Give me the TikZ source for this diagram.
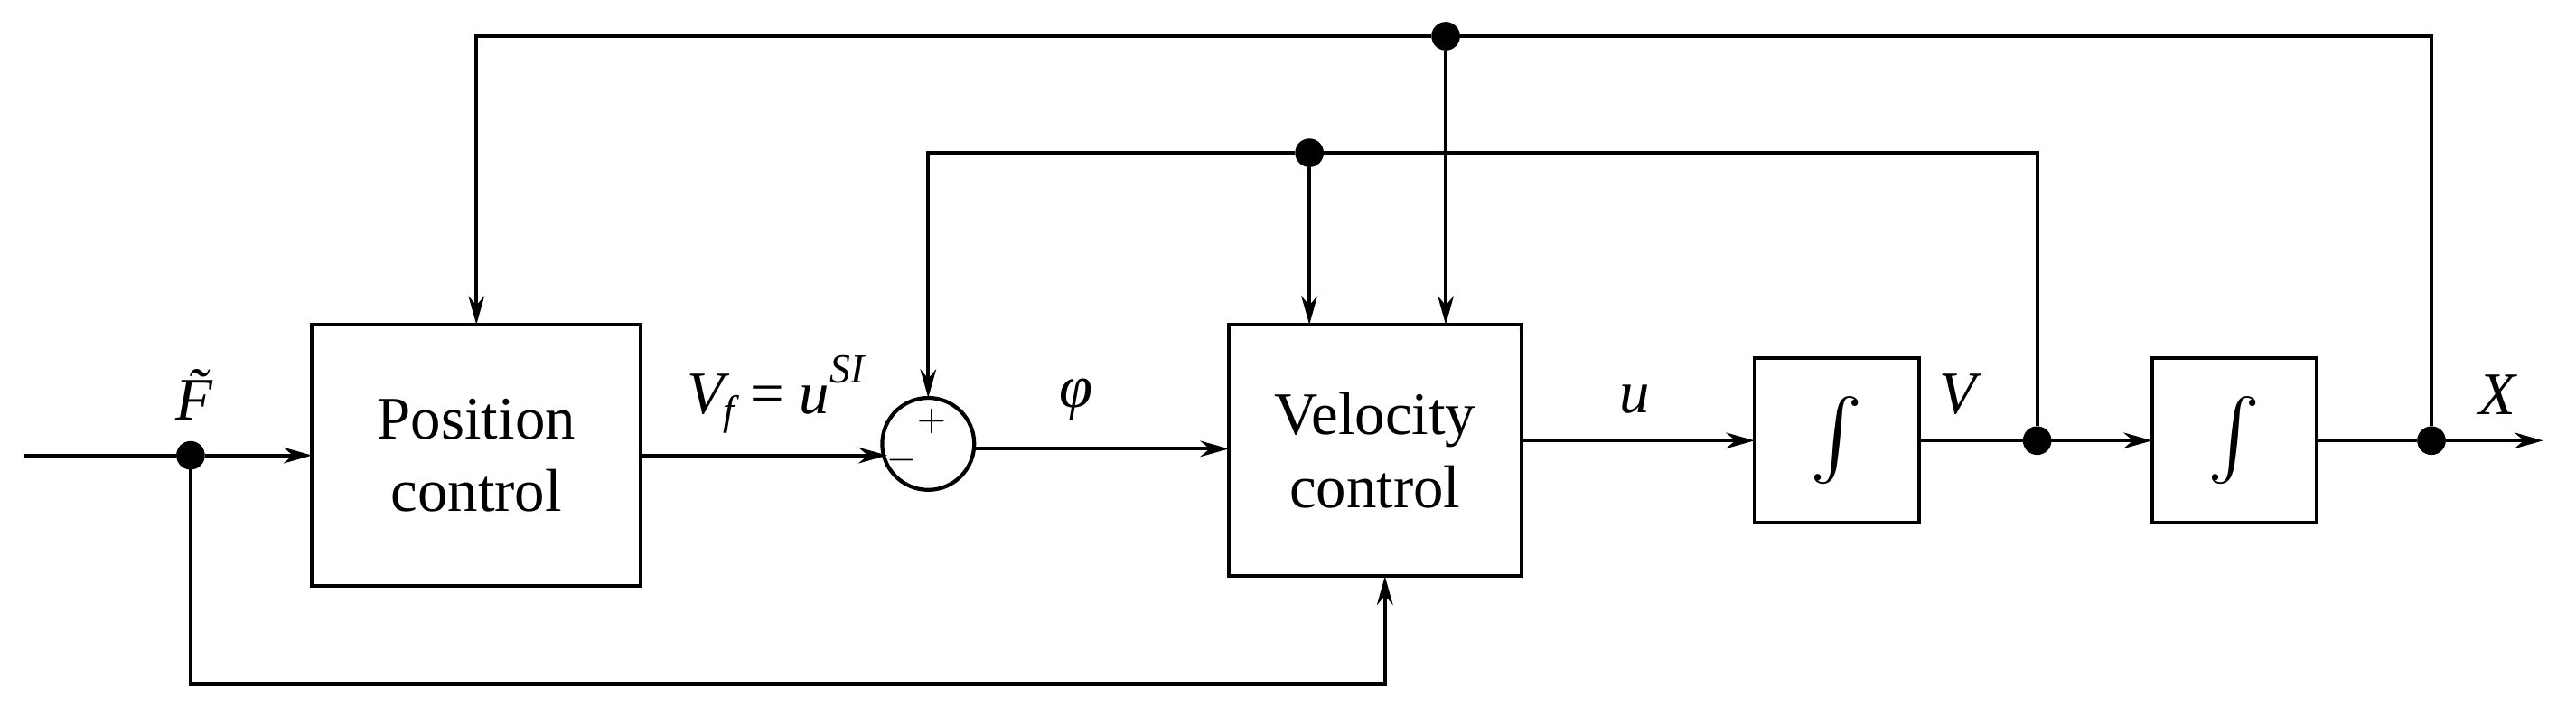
\documentclass[tikz,border=0pt]{standalone}
\usepackage{fontspec}
\setmainfont{Liberation Serif}
\usepackage{amsmath}
\usetikzlibrary{arrows.meta}
\begin{document}
\begin{tikzpicture}
	[x=0.01818cm,y=-0.01818cm,
	every node/.style={inner sep=1pt,outer sep=0},
	blk/.style={shape=rectangle,draw,line width=1.2pt,align=center,font=\fontsize{19}{23}\selectfont},
	dot/.style={shape=circle,fill,minimum size=9pt,inner sep=0},
	sig/.style={font=\fontsize{19}{23}\selectfont\itshape},
	>={Stealth[length=9pt,width=5pt]}]
	\useasboundingbox (0,0) rectangle (1568,436);
	\coordinate (in) at (15,277);
	\node[dot] (df) at (116,277) {};
	\node[blk,minimum width=200*0.01818cm,minimum height=159*0.01818cm] (pos) at (290,277) {Position\\control};
	\node[shape=circle,draw,line width=1.2pt,minimum size=56*0.01818cm] (sum) at (565,270) {};
	\node[blk,minimum width=178*0.01818cm,minimum height=153*0.01818cm] (vel) at (837,274) {Velocity\\control};
	\node[blk,minimum size=100*0.01818cm,font=\fontsize{24}{28}\selectfont] (int1) at (1118,268) {$\int$};
	\node[blk,minimum size=100*0.01818cm,font=\fontsize{24}{28}\selectfont] (int2) at (1360,268) {$\int$};
	\node[dot] (dv) at (1240,268) {};
	\node[dot] (dx) at (1480,268) {};
	\coordinate (out) at (1548,268);
	\node[dot] (dt1) at (880,22) {};
	\node[dot] (dt2) at (797,93) {};
	% labels
	\node[sig] at (118,240) {\~{F}};
	\node[sig] at (472,240) {V\raisebox{-0.4ex}{\fontsize{13}{15}\selectfont f}\ {\upshape =}\ u\raisebox{1.1ex}{\fontsize{13}{15}\selectfont SI}};
	\node[sig] at (655,243) {φ};
	\node[sig] at (995,243) {u};
	\node[sig] at (1192,240) {V};
	\node[sig] at (1520,240) {X};
	\node[font=\fontsize{13}{15}\selectfont] at (567,256) {$+$};
	\node[font=\fontsize{13}{15}\selectfont] at (549,280) {$-$};
	\draw[line width=1.2pt,->]
	(in) -- (df) -- (pos.west |- df) ;
	\draw[line width=1.2pt,->] (pos.east |- sum.west) ++(0,7) -- ++(150,0) ;
	\draw[line width=1.2pt,->] (sum.east) ++(0,3) -- (vel.west |- 0,273) ;
	\draw[line width=1.2pt,->] (vel.east |- int1) -- (int1.west) ;
	\draw[line width=1.2pt,->] (int1.east) -- (dv) -- (int2.west) ;
	\draw[line width=1.2pt,->] (int2.east) -- (dx) -- (out) ;
	\draw[line width=1.2pt,->] (dx) -- (1480,22) -- (dt1) -- (290,22) -- (pos.north) ;
	\draw[line width=1.2pt,->] (dt1) -- (vel.north -| dt1) ;
	\draw[line width=1.2pt,->] (dv) -- (1240,93) -- (dt2) -- (565,93) -- (sum.north) ;
	\draw[line width=1.2pt,->] (dt2) -- (vel.north -| dt2) ;
	\draw[line width=1.2pt,->] (df) -- (116,416) -- (843,416) -- (vel.south -| 843,0) ;
\end{tikzpicture}
\end{document}
